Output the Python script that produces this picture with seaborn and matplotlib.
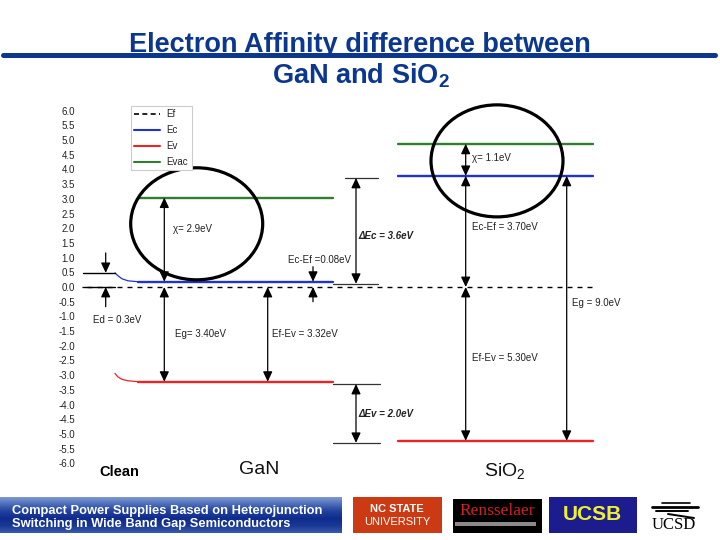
import numpy as np
import pandas as pd
import matplotlib
matplotlib.use("Agg")
import matplotlib.pyplot as plt
import seaborn as sns
from matplotlib.patches import Ellipse, Rectangle
from matplotlib.lines import Line2D
from matplotlib.colors import LinearSegmentedColormap

# ---------------- data (energies in eV) ----------------
y_ticks = [6.0, 5.5, 5.0, 4.5, 4.0, 3.5, 3.0, 2.5, 2.0, 1.5, 1.0, 0.5, 0.0,
           -0.5, -1.0, -1.5, -2.0, -2.5, -3.0, -3.5, -4.0, -4.5, -5.0, -5.5, -6.0]
y_tick_labels = ["6.0", "5.5", "5.0", "4.5", "4.0", "3.5", "3.0", "2.5", "2.0", "1.5",
                 "1.0", "0.5", "0.0", "-0.5", "-1.0", "-1.5", "-2.0", "-2.5", "-3.0",
                 "-3.5", "-4.0", "-4.5", "-5.0", "-5.5", "-6.0"]

band_names = ["Ec", "Ev", "Evac"]
gan_energy = [0.18, -3.22, 3.04]
sio2_energy = [3.78, -5.23, 4.87]
ef_energy = 0.0
clean_levels = [0.48, 0.0]            # surface reference lines (Ed = 0.3 eV)
ec_bend_x = [115, 118, 122, 128, 138]
ec_bend_y = [0.48, 0.38, 0.28, 0.21, 0.18]
ev_bend_x = [115, 118, 122, 128, 138]
ev_bend_y = [-2.94, -3.06, -3.14, -3.19, -3.22]
dEc_refs = [0.11, 3.71]
dEv_refs = [-3.30, -5.30]

# horizontal layout (figure pixel columns)
ef_x = (77, 593)
clean_x = (83, 115)
gan_x = (138, 333)
sio2_x = (398, 593)

labels = [
    ("Ed = 0.3eV", 93, -1.12, "normal", "normal"),
    ("\u03c7= 2.9eV", 173, 1.97, "normal", "normal"),
    ("Eg= 3.40eV", 175, -1.60, "normal", "normal"),
    ("Ef-Ev = 3.32eV", 272, -1.60, "normal", "normal"),
    ("Ec-Ef =0.08eV", 288, 0.92, "normal", "normal"),
    ("\u0394Ec = 3.6eV", 358, 1.74, "bold", "italic"),
    ("\u0394Ev = 2.0eV", 358, -4.32, "bold", "italic"),
    ("\u03c7= 1.1eV", 472, 4.40, "normal", "normal"),
    ("Ec-Ef = 3.70eV", 472, 2.05, "normal", "normal"),
    ("Ef-Ev = 5.30eV", 472, -2.41, "normal", "normal"),
    ("Eg = 9.0eV", 572, -0.53, "normal", "normal"),
]

# ---------------- style ----------------
sns.set_theme(style="white")
plt.rcParams["font.family"] = ["Liberation Sans", "DejaVu Sans"]
plt.rcParams["axes.unicode_minus"] = False
plt.rcParams["mathtext.fontset"] = "custom"
plt.rcParams["mathtext.rm"] = "Liberation Sans"
plt.rcParams["mathtext.bf"] = "Liberation Sans:bold"

band_colors = {"Ec": "#2233cc", "Ev": "#ee2222", "Evac": "#2f7f2f"}
title_blue = "#0c3791"

W, H = 720, 540
fig = plt.figure(figsize=(7.2, 5.4), dpi=100)
fig.patch.set_facecolor("white")

def fx(px):
    return px / W

def fy(py):
    return 1 - py / H

ax = fig.add_axes([82 / W, (H - 463.4) / H, (W - 82) / W, (463.4 - 110.6) / H])
ax.set_xlim(82, 720)
ax.set_ylim(-6, 6)
ax.set_facecolor("none")
for s in ax.spines.values():
    s.set_visible(False)
ax.set_xticks([])
ax.set_yticks(y_ticks)
ax.set_yticklabels(y_tick_labels, fontsize=7, color="#222222")
ax.tick_params(axis="y", length=0, pad=5)

# band levels via seaborn
rows = []
for band, e in zip(band_names, gan_energy):
    rows.append(dict(x=gan_x[0], E=e, band=band, seg="GaN-" + band))
    rows.append(dict(x=gan_x[1], E=e, band=band, seg="GaN-" + band))
for band, e in zip(band_names, sio2_energy):
    rows.append(dict(x=sio2_x[0], E=e, band=band, seg="SiO2-" + band))
    rows.append(dict(x=sio2_x[1], E=e, band=band, seg="SiO2-" + band))
df = pd.DataFrame(rows)
sns.lineplot(data=df, x="x", y="E", hue="band", units="seg", estimator=None,
             palette=band_colors, lw=1.7, legend=False, sort=False, ax=ax)

# Fermi level
ef_df = pd.DataFrame({"x": list(ef_x), "E": [ef_energy, ef_energy]})
sns.lineplot(data=ef_df, x="x", y="E", color="black", lw=1.0,
             linestyle=(0, (3.6, 3.6)), ax=ax)
ax.set_xlabel("")
ax.set_ylabel("")

# band bending at the surface
ax.plot(ec_bend_x, ec_bend_y, color=band_colors["Ec"], lw=0.9)
ax.plot(ev_bend_x, ev_bend_y, color=band_colors["Ev"], lw=0.9)
for lv in clean_levels:
    ax.plot(list(clean_x), [lv, lv], color="black", lw=1.0)

# offset reference lines
ax.plot([333, 378], [dEc_refs[0]] * 2, color="#333333", lw=0.9)
ax.plot([345, 378], [dEc_refs[1]] * 2, color="#333333", lw=0.9)
ax.plot([333, 380], [dEv_refs[0]] * 2, color="#333333", lw=0.9)
ax.plot([333, 380], [dEv_refs[1]] * 2, color="#333333", lw=0.9)

def arrow(x, y_from, y_to, double=False):
    style = "<|-|>" if double else "-|>"
    ax.annotate("", xy=(x, y_to), xytext=(x, y_from),
                arrowprops=dict(arrowstyle=style + ",head_length=0.6,head_width=0.28",
                                color="black", lw=0.9, shrinkA=0, shrinkB=0,
                                mutation_scale=10), annotation_clip=False)

# single arrows
arrow(105.7, 1.16, clean_levels[0])
arrow(105.7, -0.67, clean_levels[1])
arrow(313, 0.69, gan_energy[0])
arrow(313, -0.50, ef_energy)
# double arrows
arrow(164.3, gan_energy[0], gan_energy[2], double=True)
arrow(164.3, ef_energy, gan_energy[1], double=True)
arrow(267.7, ef_energy, gan_energy[1], double=True)
arrow(356, dEc_refs[0], dEc_refs[1], double=True)
arrow(356, dEv_refs[0], dEv_refs[1], double=True)
arrow(465.7, sio2_energy[0], sio2_energy[2], double=True)
arrow(465.7, ef_energy, sio2_energy[0], double=True)
arrow(465.7, ef_energy, sio2_energy[1], double=True)
arrow(566.7, sio2_energy[1], sio2_energy[0], double=True)

for txt, x, y, wt, st in labels:
    ax.text(x, y, txt, fontsize=7, ha="left", va="center", color="#222222",
            fontweight=wt, fontstyle=st)

# circles
ax.add_patch(Ellipse((196.7, 2.15), 132, 3.81, fill=False, lw=2.3, ec="black",
                     clip_on=False, zorder=6))
ax.add_patch(Ellipse((497, 4.29), 132, 3.81, fill=False, lw=2.3, ec="black",
                     clip_on=False, zorder=6))

# region labels
fig.text(fx(119), fy(472), "Clean", fontsize=10.5, fontweight="bold",
         ha="center", va="center", color="black")
fig.text(fx(259), fy(470), "GaN", fontsize=14, ha="center", va="center", color="#111111")
fig.text(fx(505), fy(472), "SiO$_2$", fontsize=14, ha="center", va="center", color="#111111")

# legend
handles = [Line2D([0], [0], color="black", lw=1.2, ls=(0, (3, 2))),
           Line2D([0], [0], color=band_colors["Ec"], lw=1.5),
           Line2D([0], [0], color=band_colors["Ev"], lw=1.5),
           Line2D([0], [0], color=band_colors["Evac"], lw=1.5)]
leg = fig.legend(handles, ["Ef", "Ec", "Ev", "Evac"], loc="upper left",
                 bbox_to_anchor=(fx(131), fy(106)), fontsize=7, frameon=True,
                 fancybox=False, edgecolor="#cccccc", framealpha=1,
                 handlelength=2.6, handletextpad=0.7, labelspacing=0.6,
                 borderpad=0.35, borderaxespad=0)
leg.get_frame().set_linewidth(0.8)

# title
fig.add_artist(Line2D([fx(3), fx(715)], [fy(54.8), fy(54.8)], color=title_blue,
                      lw=3.6, transform=fig.transFigure, zorder=1))
fig.text(fx(360), fy(51.7), "Electron Affinity difference between", fontsize=19.5,
         fontweight="bold", color=title_blue, ha="center", va="baseline", zorder=2)
fig.text(fx(361), fy(83.3), r"GaN and SiO$_\mathbf{2}$", fontsize=19.5,
         fontweight="bold", color=title_blue, ha="center", va="baseline")

# footer banner
grad_cmap = LinearSegmentedColormap.from_list(
    "banner", ["#7d98d2", "#4a6bb8", "#1f409d", "#0f2c8c", "#183894", "#3a5aac"])
fax = fig.add_axes([0, fy(533), fx(342), 36 / H])
fax.imshow(np.linspace(0, 1, 64).reshape(-1, 1), aspect="auto", cmap=grad_cmap,
           extent=(0, 1, 0, 1), origin="upper")
fax.axis("off")
fig.text(fx(12), fy(511), "Compact Power Supplies Based on Heterojunction",
         fontsize=9.3, fontweight="bold", color="white", ha="left", va="center")
fig.text(fx(12), fy(523.5), "Switching in Wide Band Gap Semiconductors",
         fontsize=9.3, fontweight="bold", color="white", ha="left", va="center")

def box(x0, y0, x1, y1, color):
    fig.add_artist(Rectangle((fx(x0), fy(y1)), fx(x1) - fx(x0), fy(y0) - fy(y1),
                             transform=fig.transFigure, facecolor=color,
                             edgecolor="none"))

box(352.7, 497, 442, 533, "#cc3a14")
fig.text(fx(397), fy(509), "NC STATE", fontsize=8, fontweight="bold", color="white",
         ha="center", va="center")
fig.text(fx(397), fy(522), "UNIVERSITY", fontsize=8, color="white",
         ha="center", va="center")

box(453, 499, 541.7, 532.7, "black")
box(455, 522, 536, 526, "#8a8a8a")
fig.text(fx(497), fy(511), "Rensselaer", fontsize=12.5, color="#d42020",
         family="Liberation Serif", ha="center", va="center")

box(549, 497, 636.7, 533, "#1c1c8e")
fig.text(fx(592), fy(515), "UCSB", fontsize=15, fontweight="bold", color="#f0f030",
         ha="center", va="center")

for (x0, y0, x1, y1, w) in [(662, 503, 690, 503, 1.2), (652, 507, 698, 507, 2.0),
                            (656, 511, 688, 511, 1.4), (668, 514, 694, 518, 1.4)]:
    fig.add_artist(Line2D([fx(x0), fx(x1)], [fy(y0), fy(y1)], color="black", lw=w,
                          transform=fig.transFigure))
fig.text(fx(674), fy(525), "UCSD", fontsize=12, family="Liberation Serif",
         color="black", ha="center", va="center")

fig.savefig("out.png", dpi=100, facecolor="white")
